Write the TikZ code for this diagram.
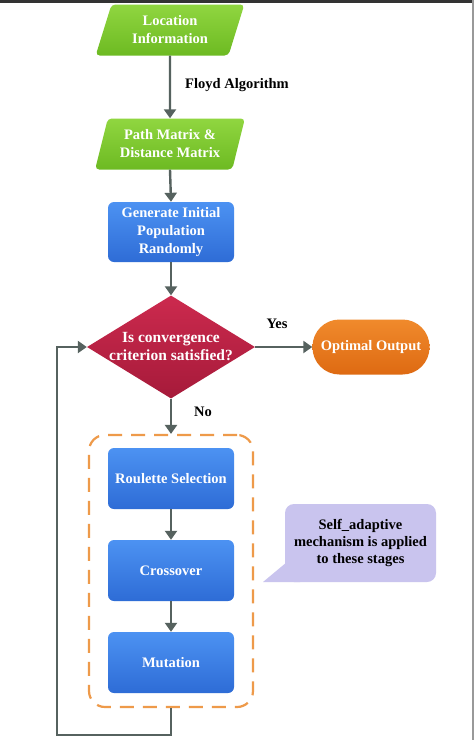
\documentclass[tikz,border=0pt]{standalone}
\usepackage{fontspec}
\setmainfont{Liberation Serif}
\usetikzlibrary{shapes.geometric,arrows.meta}
\definecolor{arrgray}{HTML}{56625F}
\definecolor{gtop}{HTML}{90D640}
\definecolor{gbot}{HTML}{6DBA22}
\definecolor{btop}{HTML}{4C92F2}
\definecolor{bbot}{HTML}{2E6CD6}
\definecolor{rtop}{HTML}{CC2A4E}
\definecolor{rbot}{HTML}{A61A3A}
\definecolor{otop}{HTML}{F08A2C}
\definecolor{obot}{HTML}{DE6A12}
\definecolor{dashor}{HTML}{EE9A4A}
\definecolor{lav}{HTML}{C9C4EE}
\tikzset{
  txt/.style={font=\fontsize{14.5pt}{18pt}\selectfont\bfseries, align=center},
  para/.style={trapezium, trapezium left angle=70, trapezium right angle=110, trapezium stretches=true,
    minimum width=150pt, minimum height=51pt, inner sep=0pt, rounded corners=4pt,
    top color=gtop, bottom color=gbot, draw=none, text=white, txt},
  bluebox/.style={rectangle, rounded corners=6pt, minimum width=126pt, minimum height=61pt,
    top color=btop, bottom color=bbot, draw=none, text=white, txt},
  decis/.style={diamond, minimum width=168pt, minimum height=103pt, inner sep=0pt,
    top color=rtop, bottom color=rbot, draw=none},
  term/.style={rectangle, rounded corners=27pt, minimum width=117pt, minimum height=55pt,
    top color=otop, bottom color=obot, draw=none, text=white, txt},
  grpbox/.style={rectangle, rounded corners=16pt, draw=dashor, line width=2.2pt,
    dash pattern=on 14pt off 9pt, minimum width=164pt, minimum height=272pt},
  lbl/.style={txt, text=black},
  arr/.style={draw=arrgray, line width=2.4pt, -{Triangle[length=9pt,width=12pt]}},
}
\begin{document}
\begin{tikzpicture}[x=1pt,y=-1pt]
\useasboundingbox (0,0) rectangle (474,740);
\fill[white] (0,0) rectangle (474,740);
\fill[black!80] (0,0) rectangle (474,2.5);
\fill[black!40] (471.5,0) rectangle (474,740);

\node[para] (loc) at (170,30) {Location\\Information};
\node[para] (pm) at (170,144) {Path Matrix \&\\Distance Matrix};
\node[bluebox, minimum height=60pt] (gen) at (171,232) {Generate Initial\\Population\\Randomly};
\node[decis] (dia) at (171,347) {};
\node[txt, text=white, font=\fontsize{15.5pt}{18pt}\selectfont\bfseries] (diatext) at (dia.center) {Is convergence\\criterion satisfied?};
\node[term] (opt) at (371,347) {Optimal Output};
\node[grpbox] (grp) at (171,571) {};
\node[bluebox] (rou) at (171,478.5) {Roulette Selection};
\node[bluebox] (cro) at (171,570.5) {Crossover};
\node[bluebox] (mut) at (171,662.5) {Mutation};

% callout
\fill[lav] (287,562) -- (263,582) -- (300,582) -- cycle;
\node[rectangle, rounded corners=9pt, fill=lav, minimum width=151pt, minimum height=78pt, lbl,
  font=\fontsize{14.5pt}{17pt}\selectfont\bfseries] (cal) at (360.5,543) {Self\_adaptive\\mechanism is applied\\to these stages};

\node[lbl] (floyd) at (237,85) {Floyd Algorithm};
\node[lbl] (yes) at (277,324) {Yes};
\node[lbl] (no) at (203,412) {No};

\draw[arr] (loc.south) -- (pm.north);
\draw[arr] (pm.south) -- (gen.north);
\draw[arr] (gen.south) -- (dia.north);
\draw[arr] (dia.east) -- (opt.west);
\draw[arr] (dia.south) -- (grp.north);
\draw[arr] (rou.south) -- (cro.north);
\draw[arr] (cro.south) -- (mut.north);
\coordinate (lb) at (57,735);
\draw[arr] (grp.south) |- (lb) |- (dia.west);
\end{tikzpicture}
\end{document}
